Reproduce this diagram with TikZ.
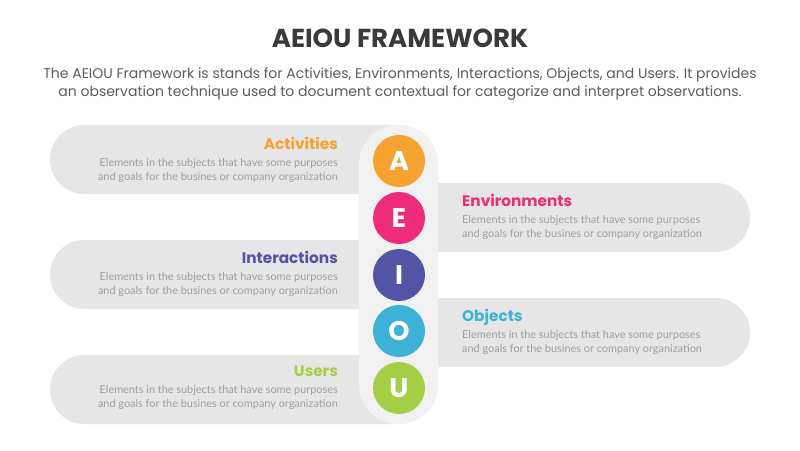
\documentclass[tikz,border=0pt]{standalone}
\usepackage{fontspec}
\setmainfont{Lato}
\newfontfamily\poppins{Poppins}
\usetikzlibrary{positioning}
\definecolor{aorange}{HTML}{F5A22E}
\definecolor{epink}{HTML}{EE2D7A}
\definecolor{iblue}{HTML}{5254A6}
\definecolor{ocyan}{HTML}{3DB2D7}
\definecolor{ugreen}{HTML}{A5CE47}
\definecolor{bandgray}{HTML}{E6E6E6}
\definecolor{colgray}{HTML}{F1F1F1}
\definecolor{titlegray}{HTML}{3A3A3A}
\definecolor{subgray}{HTML}{5C5C5C}
\definecolor{descgray}{HTML}{9E9E9E}

\begin{document}
\begin{tikzpicture}[x=1pt,y=-1pt,
	band/.style={fill=bandgray,rounded corners=34.5pt},
	letter/.style={circle,minimum size=52pt,inner sep=0pt,text=white,font=\poppins\bfseries\fontsize{27}{27}\selectfont},
	head/.style={inner sep=0pt,font=\poppins\bfseries\fontsize{15.3}{15.3}\selectfont},
	desc/.style={inner sep=0pt,text=descgray,font=\fontsize{10.9}{14.5}\selectfont}]
\useasboundingbox[fill=white] (0,0) rectangle (800,450);

% heading
\node[anchor=base,font=\poppins\bfseries\fontsize{26}{26}\selectfont,text=titlegray] (title) at (400,47) {AEIOU FRAMEWORK};
\node[anchor=base,align=center,inner sep=0pt,text=subgray,font=\poppins\fontsize{14}{18}\selectfont] (intro) at (400,96)
	{The AEIOU Framework is stands for Activities, Environments, Interactions, Objects, and Users. It provides\\
	an observation technique used to document contextual for categorize and interpret observations.};

% bands
\fill[band] (50,125) rectangle (430,194);
\fill[band] (370,183) rectangle (750,252);
\fill[band] (50,240) rectangle (430,309);
\fill[band] (370,298) rectangle (750,367);
\fill[band] (50,355) rectangle (430,424);
\fill[colgray,rounded corners=39pt] (359,125) rectangle (438,424);

% letters
\node[letter,fill=aorange] (cA) at (399,161) {A};
\node[letter,fill=epink] (cE) at (399,218) {E};
\node[letter,fill=iblue] (cI) at (399,275) {I};
\node[letter,fill=ocyan] (cO) at (399,331) {O};
\node[letter,fill=ugreen] (cU) at (399,388) {U};

% texts
\node[head,anchor=base east,text=aorange] (hA) at (338,149) {Activities};
\node[desc,anchor=north east,align=right] (dA) at (338,158) {Elements in the subjects that have some purposes\\and goals for the\ busines or company organization};
\node[head,anchor=base west,text=epink] (hE) at (462,206) {Environments};
\node[desc,anchor=north west,align=left] (dE) at (462,215) {Elements in the subjects that have some purposes\\and goals for the\ busines or company organization};
\node[head,anchor=base east,text=iblue] (hI) at (338,263) {Interactions};
\node[desc,anchor=north east,align=right] (dI) at (338,272) {Elements in the subjects that have some purposes\\and goals for the\ busines or company organization};
\node[head,anchor=base west,text=ocyan] (hO) at (462,321) {Objects};
\node[desc,anchor=north west,align=left] (dO) at (462,330) {Elements in the subjects that have some purposes\\and goals for the\ busines or company organization};
\node[head,anchor=base east,text=ugreen] (hU) at (338,376) {Users};
\node[desc,anchor=north east,align=right] (dU) at (338,385) {Elements in the subjects that have some purposes\\and goals for the\ busines or company organization};
\end{tikzpicture}
\end{document}
